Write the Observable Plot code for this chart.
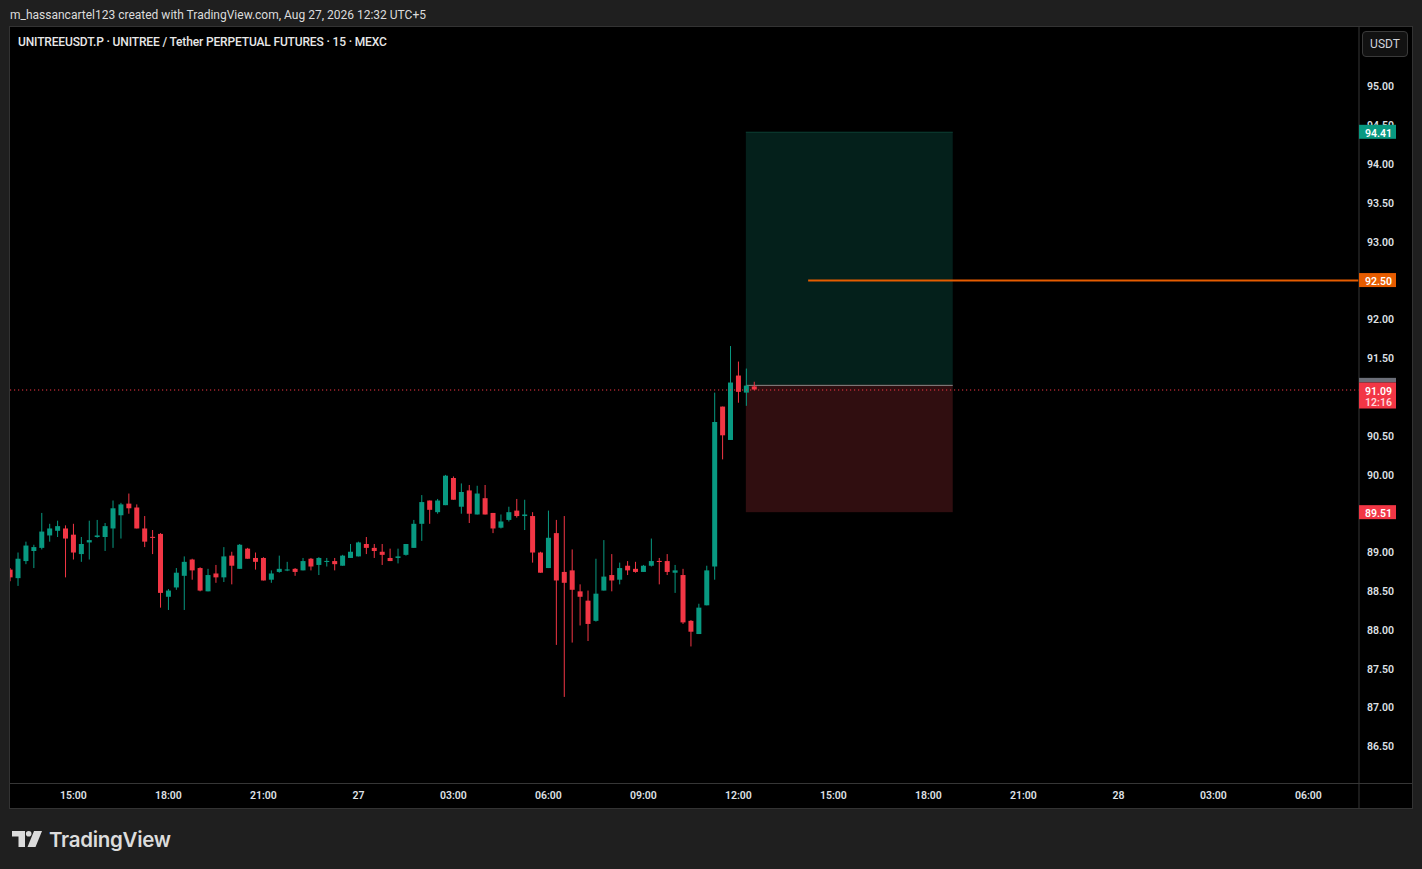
<!DOCTYPE html>
<html><head><meta charset="utf-8">
<script src="https://cdn.jsdelivr.net/npm/d3@7"></script>
<script src="https://cdn.jsdelivr.net/npm/@observablehq/plot@0.6"></script>
<style>
html,body{margin:0;padding:0;}
body{width:1422px;height:869px;background:#1f1f1f;position:relative;overflow:hidden;font-family:Roboto,"Noto Sans",sans-serif;}
#hdr{position:absolute;left:10px;top:8px;font-size:12px;color:#dcdcdc;white-space:nowrap;}
#panel{position:absolute;left:9px;top:26px;width:1402px;height:781px;border:1px solid #333;background:#000;}
#panel svg{display:block;}
#title{position:absolute;left:18px;top:35px;font-size:12px;font-weight:500;color:#e8e8e8;white-space:nowrap;letter-spacing:-0.15px;}
#usdt{position:absolute;left:1362px;top:31px;width:44px;height:24px;border:1px solid #3a3a3a;border-radius:4px;background:#121212;color:#d1d4dc;font-size:12px;line-height:24px;text-align:center;}
#logo{position:absolute;left:12px;top:826px;height:26px;display:flex;align-items:center;}
#logo span{font-family:Inter,Roboto,sans-serif;font-weight:600;font-size:20.5px;color:#dcdcdc;margin-left:7px;letter-spacing:-0.3px;}
</style></head>
<body>
<div id="hdr">m_hassancartel123 created with TradingView.com, Aug 27, 2026 12:32 UTC+5</div>
<div id="panel"></div>
<div id="title">UNITREEUSDT.P · UNITREE / Tether PERPETUAL FUTURES · 15 · MEXC</div>
<div id="usdt">USDT</div>
<div id="logo"><svg width="30" height="16" viewBox="0 0 30 16"><path d="M0 0H13V16H6.5V5.5H0Z" fill="#dcdcdc"/><circle cx="16.7" cy="2.8" r="2.8" fill="#dcdcdc"/><path d="M22 0H30L23.5 16H15.5Z" fill="#dcdcdc"/></svg><span>TradingView</span></div>
<script>
// ---- data ----
const candleStartUTC = Date.UTC(2026, 7, 26, 13, 0); // first 15-min candle
const candleMinutes = 15;
const open  = [88.77,88.66,88.88,89.01,89.05,89.21,89.27,89.30,89.22,88.97,89.12,89.19,89.19,89.30,89.47,89.62,89.57,89.30,89.19,89.23,
               88.42,88.54,88.69,88.90,88.79,88.49,88.72,88.67,88.95,88.78,89.04,88.92,88.92,88.64,88.74,88.76,88.78,88.76,88.91,88.83,
               88.87,88.88,88.82,88.92,88.94,89.10,89.05,89.00,88.92,88.92,88.96,89.05,89.36,89.66,89.51,89.60,89.95,89.58,89.79,89.48,
               89.69,89.50,89.31,89.41,89.53,89.46,89.46,88.99,88.79,89.24,88.74,88.76,88.49,88.37,88.11,88.50,88.70,88.64,88.82,88.78,
               88.74,88.82,88.88,88.88,88.73,88.70,88.11,87.94,88.31,88.81,90.87,90.44,91.27,91.05,91.13];
const high  = [88.79,88.99,89.13,89.09,89.50,89.36,89.40,89.34,89.36,89.19,89.40,89.41,89.37,89.66,89.63,89.75,89.61,89.46,89.28,89.24,
               88.52,88.79,88.94,88.91,88.80,88.78,88.83,89.06,89.00,89.10,89.05,88.99,88.93,88.76,88.95,88.87,88.79,88.92,88.92,88.93,
               88.92,88.92,88.96,89.10,89.13,89.19,89.10,89.10,89.04,89.04,89.10,89.41,89.73,89.66,89.68,89.99,89.97,89.88,89.86,89.85,
               89.86,89.50,89.48,89.58,89.68,89.67,89.51,89.00,89.53,89.41,89.46,89.03,88.58,88.50,88.91,89.15,88.97,88.86,88.88,88.87,
               88.83,89.17,88.92,88.97,88.83,88.78,88.12,88.33,88.82,91.05,90.87,91.65,91.45,91.36,91.19];
const low   = [88.62,88.56,88.84,88.79,89.03,89.13,89.19,88.67,88.90,88.87,88.90,89.18,89.01,89.05,89.17,89.49,89.30,89.06,88.97,88.28,
               88.25,88.51,88.25,88.64,88.49,88.49,88.60,88.61,88.58,88.78,88.91,88.77,88.63,88.60,88.73,88.75,88.69,88.76,88.76,88.70,
               88.81,88.76,88.82,88.92,88.94,88.97,88.92,88.83,88.88,88.85,88.95,89.05,89.14,89.36,89.49,89.60,89.67,89.49,89.37,89.48,
               89.48,89.24,89.30,89.39,89.44,89.28,88.86,88.73,88.79,87.80,87.13,87.83,88.05,87.85,88.10,88.50,88.49,88.58,88.70,88.73,
               88.74,88.81,88.58,88.70,88.47,88.07,87.78,87.94,88.31,88.64,90.19,90.44,90.92,90.88,91.08];
const close = [88.67,88.91,89.08,89.06,89.26,89.30,89.33,89.17,88.99,89.10,89.15,89.21,89.33,89.56,89.61,89.56,89.30,89.13,89.18,88.47,
               88.50,88.73,88.87,88.76,88.50,88.70,88.67,88.94,88.82,89.09,88.91,88.87,88.63,88.72,88.78,88.77,88.74,88.88,88.81,88.92,
               88.88,88.84,88.95,89.00,89.12,89.05,89.01,88.96,88.88,88.94,89.10,89.36,89.64,89.54,89.66,89.98,89.67,89.77,89.49,89.75,
               89.48,89.30,89.39,89.51,89.46,89.48,88.99,88.73,89.18,88.63,88.60,88.51,88.42,88.07,88.46,88.68,88.63,88.79,88.76,88.74,
               88.82,88.88,88.87,88.74,88.76,88.09,87.97,88.28,88.76,90.67,90.50,91.18,91.06,91.14,91.09];

// visible price-axis ticks (91.00, 89.50 and 92.50 are covered by the price labels)
const yTicks = [86.5,87,87.5,88,88.5,89,90,90.5,91.5,92,93,93.5,94,94.5,95];
const xTickFirstUTC = Date.UTC(2026, 7, 26, 15, 0);
const xTickLabels = ["15:00","18:00","21:00","27","03:00","06:00","09:00","12:00","15:00","18:00","21:00","28","03:00","06:00"];

// long position tool & horizontal line
const entryPrice = 91.15, targetPrice = 94.41, stopPrice = 89.51;
const posStartUTC = Date.UTC(2026, 7, 27, 12, 15), posEndUTC = Date.UTC(2026, 7, 27, 18, 47);
const hLinePrice = 92.50, hLineStartUTC = Date.UTC(2026, 7, 27, 14, 13);
const countdown = "12:16";

// ---- layout ----
const W = 1402, H = 781, mR = 53.5, mB = 25;
const plotW = W - mR, plotH = H - mB;
const pxPerMin = 95 / 180;
const xStart = new Date(Date.UTC(2026, 7, 26, 13, 0, 45));
const xEnd = new Date(+xStart + plotW / pxPerMin * 60000);
const yDomain = [86.021, 95.760];
const xs = d3.scaleUtc().domain([xStart, xEnd]).range([0, plotW]);
const ys = d3.scaleLinear().domain(yDomain).range([plotH, 0]);
const xAt = px => xs.invert(px);
const yAt = py => ys.invert(py);

const UP = "#089981", DOWN = "#f23645";
const candles = open.map((o, i) => {
  const c = close[i];
  const pad = Math.max(0, (0.014 - Math.abs(c - o)) / 2);
  return {t: new Date(candleStartUTC + i * candleMinutes * 60000), o, h: high[i], l: low[i], c,
          b1: Math.min(o, c) - pad, b2: Math.max(o, c) + pad, col: c >= o ? UP : DOWN};
});
const last = candles[candles.length - 1];
const xTicks = xTickLabels.map((_, i) => new Date(xTickFirstUTC + i * 3 * 3600000));
const xLab = new Map(xTicks.map((d, i) => [+d, xTickLabels[i]]));

const labX1 = xAt(plotW + 0.5), labX2 = xAt(plotW + 37.5), labXc = xAt(plotW + 19.5);
const lab = (p, hpx) => ({y1: yAt(ys(p) - hpx / 2), y2: yAt(ys(p) + hpx / 2)});
const priceLabels = [
  {p: targetPrice, fill: UP, text: targetPrice.toFixed(2)},
  {p: hLinePrice, fill: "#e65c00", text: hLinePrice.toFixed(2)},
  {p: stopPrice, fill: DOWN, text: stopPrice.toFixed(2)}
].map(d => ({...d, ...lab(d.p, 14)}));

const chart = Plot.plot({
  width: W, height: H,
  marginLeft: 0, marginRight: mR, marginTop: 0, marginBottom: mB,
  x: {type: "utc", domain: [xStart, xEnd]},
  y: {domain: yDomain},
  style: {background: "#000", color: "#d1d4dc", fontFamily: "Roboto, sans-serif", fontSize: "11px"},
  marks: [
    // position tool
    Plot.rect([{}], {x1: new Date(posStartUTC), x2: new Date(posEndUTC), y1: entryPrice, y2: targetPrice, fill: "#04201b"}),
    Plot.rect([{}], {x1: new Date(posStartUTC), x2: new Date(posEndUTC), y1: stopPrice, y2: entryPrice, fill: "#300e10"}),
    Plot.ruleY([targetPrice], {x1: new Date(posStartUTC), x2: new Date(posEndUTC), stroke: "#0c3b31"}),
    Plot.ruleY([entryPrice], {x1: new Date(posStartUTC), x2: new Date(posEndUTC), stroke: "#8a8a8a"}),
    // horizontal line
    Plot.ruleY([hLinePrice], {x1: new Date(hLineStartUTC), x2: xEnd, stroke: "#e65c00", strokeWidth: 2}),
    // candles
    Plot.ruleX(candles, {x: "t", y1: "l", y2: "h", stroke: "col", clip: true}),
    Plot.ruleX(candles, {x: "t", y1: "b1", y2: "b2", stroke: "col", strokeWidth: 5, clip: true}),
    // last price line
    Plot.ruleY([last.c], {x1: xStart, x2: xEnd, stroke: DOWN, strokeDasharray: "1.2,2.8"}),
    // separators
    Plot.ruleY([yDomain[0]], {x1: xStart, x2: xAt(W), stroke: "#363636"}),
    Plot.ruleX([xEnd], {y1: yDomain[1], y2: yAt(H), stroke: "#363636"}),
    // axes
    Plot.axisY(yTicks, {anchor: "right", tickSize: 0, tickPadding: 8, tickFormat: d => d.toFixed(2), label: null,
      fontSize: 10.5, fontWeight: 600, fill: "#dfe1e6", dy: 0.5}),
    Plot.axisX(xTicks, {anchor: "bottom", tickSize: 0, tickPadding: 8, tickFormat: d => xLab.get(+d), label: null,
      fontSize: 10.5, fontWeight: 600, fill: "#dfe1e6"}),
    // price labels on axis
    Plot.rect(priceLabels, {x1: labX1, x2: labX2, y1: "y1", y2: "y2", fill: "fill"}),
    Plot.text(priceLabels, {x: labXc, y: "p", text: "text", fill: "#fff", fontSize: 10.5, fontWeight: 600, dy: 1}),
    Plot.rect([{}], {x1: labX1, x2: labX2, y1: yAt(ys(entryPrice) - 7), y2: yAt(ys(last.c) - 7), fill: "#6b6e78"}),
    Plot.rect([{}], {x1: labX1, x2: labX2, y1: yAt(ys(last.c) - 7), y2: yAt(ys(last.c) + 19), fill: DOWN}),
    Plot.text([last.c], {x: labXc, y: d => d, dy: 1.5, text: d => d.toFixed(2), fill: "#fff", fontSize: 10.5, fontWeight: 600}),
    Plot.text([last.c], {x: labXc, y: d => d, dy: 13, text: () => countdown, fill: "#ffd6da", fontSize: 10.5, fontWeight: 600})
  ]
});
document.getElementById("panel").appendChild(chart);
</script>
</body></html>
